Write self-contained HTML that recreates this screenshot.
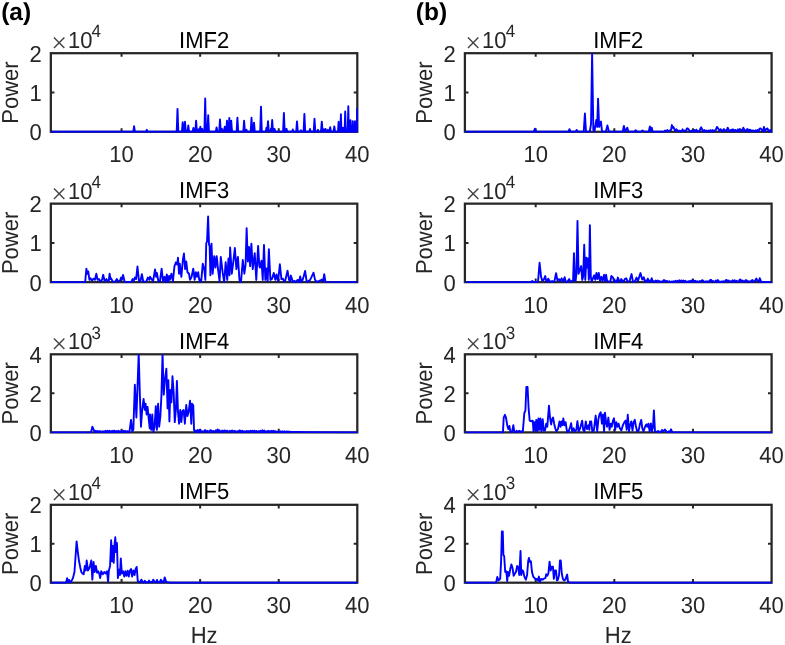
<!DOCTYPE html>
<html lang="en"><head><meta charset="utf-8"><title>IMF power spectra</title>
<style>html,body{margin:0;padding:0;background:#fff}body{width:785px;height:645px;overflow:hidden}svg{display:block}text{font-family:"Liberation Sans",Arial,Helvetica,sans-serif;text-rendering:geometricPrecision}.t{font-size:22px;fill:#262626}.ti{font-size:22px;fill:#000}.lab{font-size:24.5px;font-weight:bold;fill:#000}.ax{fill:none;stroke:#262626;stroke-width:2.25}.tk{stroke:#262626;stroke-width:2;fill:none}.ln{fill:none;stroke:#0000ff;stroke-width:1.9;stroke-linejoin:round;stroke-linecap:butt}</style></head><body>
<svg width="785" height="645" viewBox="0 0 785 645">
<rect width="785" height="645" fill="#fff"/>
<defs>
<clipPath id="c00"><rect x="50.1" y="53.2" width="307.95" height="79.6"/></clipPath>
<clipPath id="c01"><rect x="50.1" y="203.65" width="307.95" height="79.5"/></clipPath>
<clipPath id="c02"><rect x="50.1" y="354.3" width="307.95" height="79.1"/></clipPath>
<clipPath id="c03"><rect x="50.1" y="504.8" width="307.95" height="78.9"/></clipPath>
<clipPath id="c10"><rect x="464.15" y="53.2" width="308.2" height="79.6"/></clipPath>
<clipPath id="c11"><rect x="464.15" y="203.65" width="308.2" height="79.5"/></clipPath>
<clipPath id="c12"><rect x="464.15" y="354.3" width="308.2" height="79.1"/></clipPath>
<clipPath id="c13"><rect x="464.15" y="504.8" width="308.2" height="78.9"/></clipPath>
</defs>
<text class="lab" transform="translate(1.2 20.1) scale(1 1)">(a)</text>
<text class="lab" transform="translate(415.8 20.1) scale(1 1)">(b)</text>
<g>
<rect class="ax" x="50.85" y="53.2" width="306.45" height="78.6"/>
<path class="tk" d="M121.57 131.8v-3.6M121.57 53.2v3.6M200.15 131.8v-3.6M200.15 53.2v3.6M278.72 131.8v-3.6M278.72 53.2v3.6M50.85 92.5h3.6M357.3 92.5h-3.6"/>
<polyline class="ln" clip-path="url(#c00)" points="50.85,131.8 133.1,131.8 133.35,131.46 134.1,126.3 134.85,131.46 135.1,131.8 145.85,131.8 146.1,131.55 146.8,129.8 147.6,131.8 176.6,131.8 176.85,127.51 177.5,108.9 178.1,126.07 178.35,131.8 181.85,131.8 182.1,129.42 182.7,122.3 183.35,130.02 183.6,131.8 184.1,131.8 184.35,129.93 185,121.8 185.6,129.3 185.85,131.8 187.35,131.8 187.6,131.01 188.3,125.5 189.1,131.8 192.6,131.8 193.4,128 194.1,131.32 194.35,131.8 195.1,131.8 195.35,131.1 196.1,120.6 196.85,131.1 197.1,131.8 197.6,131.8 197.85,131.33 198.5,129.3 199.1,131.17 199.35,131.8 199.6,131.18 200.3,126.8 201.1,131.8 201.35,131.8 201.6,131.05 202.2,128.8 202.85,131.24 203.1,131.8 204.35,131.8 204.6,123.47 205.2,98.5 205.85,125.56 206.1,131.8 207.35,131.8 207.6,127.67 208.2,115.3 208.85,128.71 209.1,131.8 215.6,131.8 215.85,131.53 216.6,127.5 217.35,131.53 217.6,131.8 219.1,131.8 219.35,129.48 220,119.4 220.6,128.7 220.85,131.8 221.1,131.8 221.35,131.24 222,128.8 222.6,131.05 222.85,131.8 223.85,131.8 224.1,130.55 224.7,126.8 225.35,130.86 225.6,131.8 226.1,131.8 226.35,129.7 227,120.6 227.6,129 227.85,131.8 228.35,131.8 228.6,130.08 229.3,118 230.1,131.8 230.35,131.8 230.6,129 231.2,120.6 231.85,129.7 232.1,131.8 236.6,131.8 237.4,117.6 238.1,130.02 238.35,131.8 243.1,131.8 243.35,131.11 244.1,120.8 244.85,131.11 245.1,131.8 245.6,131.8 245.85,131.43 246.5,129.8 247.1,131.3 247.35,131.8 250.6,131.8 250.85,129.18 251.5,117.8 252.1,128.3 252.35,131.8 253.1,131.8 253.35,130.08 254,122.6 254.6,129.5 254.85,131.8 260.1,131.8 260.35,127.07 261,106.6 261.6,125.5 261.85,131.8 265.6,131.8 265.85,131.05 266.5,127.8 267.1,130.8 267.35,129.79 268,121.1 268.6,129.13 268.85,131.8 270.1,131.8 270.35,131.24 271,128.8 271.35,130.11 271.6,128.85 272.2,120 272.85,129.59 273.1,131.8 273.6,131.8 273.85,131.24 274.5,128.8 275.1,131.05 275.35,131.8 283.1,131.8 283.9,113 284.6,129.45 284.85,131.8 285.6,131.8 285.85,131.24 286.5,128.8 287.1,131.05 287.35,131.8 291.85,131.8 292.1,131.51 292.8,129.5 293.6,131.8 296.1,131.8 296.35,129.85 297,121.4 297.6,129.2 297.85,131.8 300.1,131.8 300.35,131.52 301,130.3 301.6,131.43 301.85,131.8 303.6,131.8 304.4,113.9 305.1,129.56 305.35,131.8 309.1,131.8 309.35,131.27 310,129 310.6,131.1 310.85,131.8 313.6,131.8 313.85,129.36 314.5,118.8 315.1,128.55 315.35,131.8 317.1,131.8 317.35,131.42 318,129.8 318.6,131.3 318.85,131.8 320.85,131.8 321.1,130.52 321.8,121.6 322.6,131.8 323.1,131.8 323.35,131.33 324,129.3 324.6,131.18 324.85,131.62 325.6,129 326.35,131.62 326.6,131.8 327.1,131.8 327.35,131.42 328,129.8 328.6,131.3 328.85,131.8 329.35,131.8 329.6,130.65 330.2,127.2 330.85,130.94 331.1,131.8 333.35,131.8 333.6,131.12 334.3,126.4 335.1,131.8 337.85,131.8 338.1,130.13 338.6,121.8 339.1,130.13 339.35,131.8 340.1,131.8 340.35,130.33 340.9,114.2 341.35,127.4 341.6,131.8 342.35,131.8 342.6,131 343,127.8 343.35,130.6 343.6,131.8 344.6,131.8 345.2,111.5 345.6,125.03 345.85,131.8 347.6,131.8 347.85,125.42 348.3,106.3 348.85,129.68 349.1,131.8 350.1,131.8 350.5,120.3 350.85,130.36 351.1,131.8 352.35,131.8 352.6,126.45 352.8,121.1 353.1,129.13 353.35,131.8 354.6,131.8 355,121.1 355.35,130.46 355.6,131.8 356.6,131.8 356.85,129.4 357.3,107.8"/>
<text class="t" text-anchor="end" transform="translate(41.7 140.3) scale(1 1.05)">0</text>
<text class="t" text-anchor="end" transform="translate(41.7 101) scale(1 1.05)">1</text>
<text class="t" text-anchor="end" transform="translate(41.7 61.7) scale(1 1.05)">2</text>
<text class="t" text-anchor="middle" transform="translate(121.57 162.2) scale(1 1.05)">10</text>
<text class="t" text-anchor="middle" transform="translate(200.15 162.2) scale(1 1.05)">20</text>
<text class="t" text-anchor="middle" transform="translate(278.72 162.2) scale(1 1.05)">30</text>
<text class="t" text-anchor="middle" transform="translate(357.3 162.2) scale(1 1.05)">40</text>
<text class="t" style="font-family:'Liberation Serif',serif;font-size:28px;fill:#444" transform="translate(51.2 52.1) scale(1 1)">×</text>
<text class="t" transform="translate(68 48.2) scale(1 1.05)">10</text>
<text class="t" style="font-size:17px" transform="translate(91.6 37.4) scale(1 1.05)">4</text>
<text class="ti" text-anchor="middle" transform="translate(204.08 47.8) scale(1 1.05)">IMF2</text>
<text class="t" text-anchor="middle" transform="translate(18.2 92.5) rotate(-90) scale(1 1.05)">Power</text>
</g>
<g>
<rect class="ax" x="50.85" y="203.65" width="306.45" height="78.5"/>
<path class="tk" d="M121.57 282.15v-3.6M121.57 203.65v3.6M200.15 282.15v-3.6M200.15 203.65v3.6M278.72 282.15v-3.6M278.72 203.65v3.6M50.85 242.9h3.6M357.3 242.9h-3.6"/>
<polyline class="ln" clip-path="url(#c01)" points="50.85,282.15 85.17,282.15 86.39,268.69 87.31,273.74 88.23,271.45 89.45,279.86 90.52,278.33 92.05,280.62 93.58,278.63 94.95,279.86 96.33,273.74 97.55,279.86 98.93,279.09 100.46,281.69 101.99,279.86 103.21,274.81 104.59,281.08 106.27,279.09 107.8,281.39 108.72,281.05 109.63,273.74 110.4,279.09 111.16,278.33 112.69,281.69 115.44,281.39 116.82,279.09 118.35,281.69 120.03,280.62 121.1,277.56 122.02,279.09 123.09,274.96 124.62,281.69 130.28,281.84 131.42,281.75 132.57,279.09 133.79,281.08 134.86,277.56 136.09,279.09 137.46,266.55 138.99,281.39 140.52,280.62 141.9,274.2 143.27,281.69 146.33,281.39 147.86,277.56 149.39,279.86 150,276.8 151.53,279.09 153.06,281.39 155.05,269.46 156.12,276.8 156.88,272.98 158.41,281.39 159.94,281.39 161.62,268.69 163,281.39 164.53,276.8 165.67,282.06 166.82,274.5 167.97,282 169.11,276.03 169.88,279.86 171.41,273.74 172.94,281.39 174.46,266.09 175.99,262.27 177.22,264.57 177.98,257.69 179.05,273.74 179.82,263.8 181.35,276.8 182.87,259.98 183.94,253.56 185.17,269.15 186.24,261.51 187.46,272.21 188.99,273.74 190.06,279.86 191.59,276.8 193.27,268.69 194.65,279.86 195.87,272.21 196.94,276.8 198.17,272.21 199.24,279.86 200.23,281.83 201.22,281.39 202.75,263.8 204.28,269.15 205.35,279.86 206.27,243.16 207.03,241.63 208.1,216.4 209.02,244.69 209.63,246.22 210.4,275.27 211.47,243.62 212.69,273.74 214.22,256.16 215.44,267.62 216.67,256.16 218.04,269.15 219.57,281.39 220.8,256.92 222.63,272.21 224.16,282.15 225.69,262.27 227.22,279.86 228.44,258.45 229.51,275.27 230.12,247.44 231.8,273.74 233.33,261.51 234.86,248.05 236.39,269.15 237.92,256.92 239.45,279.86 240.98,282.15 242.81,259.98 244.34,273.74 245.57,264.57 246.64,228.17 247.86,261.51 249.08,246.98 250.15,266.09 251.38,243.62 252.75,269.15 254.74,253.1 256.27,279.86 258.1,245.91 259.33,266.09 260,267.62 261.53,260.74 262.75,279.86 263.98,244.99 265.35,279.86 266.42,268.39 267.65,281.39 268.87,249.28 270.4,279.86 271.93,279.09 273.76,272.98 275.29,279.86 276.51,274.5 278.04,281.39 279.88,264.26 281.41,279.09 282.94,278.63 284.08,281.69 285.23,280.62 287.52,270.68 289.05,279.86 289.97,281.41 290.89,275.58 292.42,280.62 293.33,282.05 294.25,280.99 295.17,281.39 296.19,281.96 297.21,280.13 298.23,279.86 299.22,281.99 300.21,276.49 301.13,281.8 302.05,281.39 303.58,276.8 305.11,270.99 306.64,281.39 307.66,282.05 308.67,280.63 309.69,280.62 311.22,277.56 313.52,272.67 315.05,279.86 316.19,281.77 317.34,281.39 318.36,281.91 319.38,280.73 320.4,280.62 321.93,279.55 323.15,281.39 324.22,274.2 325.44,281.84 357.3,282.15"/>
<text class="t" text-anchor="end" transform="translate(41.7 290.65) scale(1 1.05)">0</text>
<text class="t" text-anchor="end" transform="translate(41.7 251.4) scale(1 1.05)">1</text>
<text class="t" text-anchor="end" transform="translate(41.7 212.15) scale(1 1.05)">2</text>
<text class="t" text-anchor="middle" transform="translate(121.57 312.55) scale(1 1.05)">10</text>
<text class="t" text-anchor="middle" transform="translate(200.15 312.55) scale(1 1.05)">20</text>
<text class="t" text-anchor="middle" transform="translate(278.72 312.55) scale(1 1.05)">30</text>
<text class="t" text-anchor="middle" transform="translate(357.3 312.55) scale(1 1.05)">40</text>
<text class="t" style="font-family:'Liberation Serif',serif;font-size:28px;fill:#444" transform="translate(51.2 202.55) scale(1 1)">×</text>
<text class="t" transform="translate(68 198.65) scale(1 1.05)">10</text>
<text class="t" style="font-size:17px" transform="translate(91.6 187.85) scale(1 1.05)">4</text>
<text class="ti" text-anchor="middle" transform="translate(204.08 198.25) scale(1 1.05)">IMF3</text>
<text class="t" text-anchor="middle" transform="translate(18.2 242.9) rotate(-90) scale(1 1.05)">Power</text>
</g>
<g>
<rect class="ax" x="50.85" y="354.3" width="306.45" height="78.1"/>
<path class="tk" d="M121.57 432.4v-3.6M121.57 354.3v3.6M200.15 432.4v-3.6M200.15 354.3v3.6M278.72 432.4v-3.6M278.72 354.3v3.6M50.85 393.35h3.6M357.3 393.35h-3.6"/>
<polyline class="ln" clip-path="url(#c02)" points="50.85,432.4 90.98,432.4 92.35,426.74 93.88,430.11 94.88,432.29 95.87,430.87 96.79,432.2 97.71,430.99 98.62,432.21 99.54,431.06 100.46,431.33 101.35,432.38 102.24,431.38 103.13,432.16 104.03,431.22 104.92,432.33 105.81,430.81 106.7,432.25 107.59,430.83 108.49,432.25 109.38,430.87 110.27,432.35 111.16,431.02 112.05,432.18 112.95,430.68 113.84,432.22 114.73,430.75 115.62,432.17 116.51,431.13 117.41,432.14 118.3,430.84 119.19,432.3 120.08,431.14 120.97,432.1 121.87,431.02 122.82,432.24 123.78,430.86 124.73,432.12 125.69,430.95 126.64,432.13 127.6,431.19 128.56,432.18 129.51,431.33 131.04,419.86 132.26,431.33 133.33,429.8 134.86,384.69 136.39,417.57 137.46,388.52 138.69,353.35 139.91,396.16 140.98,426.74 142.05,411.45 143.58,398.91 144.8,409.92 145.57,403.81 146.64,414.51 147.55,406.86 148.62,417.57 149.69,428.27 150,414.51 151.22,429.8 152.29,414.51 153.36,432.09 154.59,426.74 155.81,406.1 156.88,429.8 158.1,403.81 159.17,426.74 160.4,416.04 161.47,394.63 162.54,353.35 163.76,394.63 164.83,380.87 166.36,368.64 167.58,408.39 168.35,380.11 169.42,421.39 170.34,390.05 171.41,402.28 172.48,376.28 173.7,393.1 174.77,422.16 175.99,408.39 176.91,380.87 177.98,411.45 179.05,423.68 180.28,409.92 181.35,422.16 182.42,411.45 183.64,409.92 184.86,423.68 186.24,405.03 187.46,416.04 188.69,411.45 190.06,400.75 191.28,423.68 192.05,403.81 193.27,405.34 194.04,429.8 194.95,432.15 195.87,430.57 196.79,431.95 197.71,429.87 198.62,432.35 199.54,430.3 200.46,430.11 201.61,432.31 202.75,431.33 203.9,431.99 205.05,430.11 206.07,432.19 207.08,430.7 208.1,431.33 209.02,432.29 209.94,430.32 210.86,430.11 211.98,432.22 213.1,430.86 214.22,431.33 215.1,432.18 215.98,430.15 216.86,431.85 217.74,429.49 218.6,432.01 219.47,430.26 220.34,431.33 221.25,432.13 222.17,430.54 223.09,432.13 224.01,430.66 224.92,430.41 225.94,432.04 226.96,430.63 227.98,431.33 228.9,432.12 229.82,430.85 230.73,432.13 231.65,430.74 232.57,430.57 233.59,432.07 234.61,430.9 235.63,431.33 236.54,432.32 237.46,431.18 238.38,432.09 239.3,430.38 240.21,430.72 241.13,432.37 242.05,430.65 242.97,432.27 243.88,431.25 244.8,431.33 245.67,432.31 246.55,430.9 247.42,432.11 248.3,431.1 249.17,432.17 250.04,430.94 250.92,430.72 251.79,432.11 252.66,430.84 253.54,432.09 254.41,430.68 255.29,432.24 256.16,430.9 257.03,431.33 257.93,432.3 258.82,431.07 259.71,432.16 260.6,430.77 261.49,432.3 262.39,430.26 263.34,432.21 264.3,430.56 265.25,432.35 266.21,431.33 267.16,432.39 268.12,430.87 269.07,432.3 270.03,431.02 269.94,431.33 270.89,432.12 271.85,430.76 272.81,432.27 273.76,430.87 274.78,432.25 275.8,431.27 276.82,431.64 277.78,432.27 278.73,431.44 279.69,432.28 280.64,431.35 281.6,432.18 282.55,431.3 283.51,432.29 284.46,431.33 285.34,432.22 286.21,431.47 287.09,432.33 287.96,431.36 288.83,432.3 289.71,431.64 290.58,431.79 305.87,432.09 357.3,432.4"/>
<text class="t" text-anchor="end" transform="translate(41.7 440.9) scale(1 1.05)">0</text>
<text class="t" text-anchor="end" transform="translate(41.7 401.85) scale(1 1.05)">2</text>
<text class="t" text-anchor="end" transform="translate(41.7 362.8) scale(1 1.05)">4</text>
<text class="t" text-anchor="middle" transform="translate(121.57 462.8) scale(1 1.05)">10</text>
<text class="t" text-anchor="middle" transform="translate(200.15 462.8) scale(1 1.05)">20</text>
<text class="t" text-anchor="middle" transform="translate(278.72 462.8) scale(1 1.05)">30</text>
<text class="t" text-anchor="middle" transform="translate(357.3 462.8) scale(1 1.05)">40</text>
<text class="t" style="font-family:'Liberation Serif',serif;font-size:28px;fill:#444" transform="translate(51.2 353.2) scale(1 1)">×</text>
<text class="t" transform="translate(68 349.3) scale(1 1.05)">10</text>
<text class="t" style="font-size:17px" transform="translate(91.6 338.5) scale(1 1.05)">3</text>
<text class="ti" text-anchor="middle" transform="translate(204.08 348.9) scale(1 1.05)">IMF4</text>
<text class="t" text-anchor="middle" transform="translate(18.2 393.35) rotate(-90) scale(1 1.05)">Power</text>
</g>
<g>
<rect class="ax" x="50.85" y="504.8" width="306.45" height="77.9"/>
<path class="tk" d="M121.57 582.7v-3.6M121.57 504.8v3.6M200.15 582.7v-3.6M200.15 504.8v3.6M278.72 582.7v-3.6M278.72 504.8v3.6M50.85 543.75h3.6M357.3 543.75h-3.6"/>
<polyline class="ln" clip-path="url(#c03)" points="50.85,582.7 66.06,582.7 67.13,578.11 68.12,582.48 69.11,579.95 70.26,582.64 71.41,581.17 72.94,578.11 74.46,572 75.54,556.71 76.61,541.42 77.83,552.12 79.05,561.29 80.28,567.41 81.35,572 82.42,573.53 83.64,574.29 84.86,565.88 85.78,570.47 86.7,560.53 87.92,570.47 88.99,568.94 90.06,565.88 91.28,560.53 92.35,579.64 93.58,562.06 94.65,572 95.87,565.88 97.09,572.76 98.17,571.23 99.24,573.53 100.15,578.11 101.22,571.23 102.75,574.29 104.28,572 105.81,573.53 107.03,571.23 108.1,581.94 108.87,570.47 110.09,565.88 111.16,540.19 112.08,561.29 112.84,546 113.76,562.82 114.53,544.47 115.29,537.29 116.06,552.12 116.97,542.94 117.89,578.11 119.11,569.7 120.03,575.05 120.8,558.54 121.87,573.53 123.09,571.23 124.31,576.58 125.38,571.23 126.45,575.82 127.68,570.77 128.75,576.58 129.97,570.47 131.04,568.94 132.11,576.58 133.33,570.47 134.56,575.05 135.63,568.94 136.7,566.95 137.77,581.17 139.45,581.94 140.37,582.51 141.28,579.64 142.81,581.94 143.81,582.65 144.8,580.87 145.95,582.68 147.09,581.94 148.09,582.55 149.08,580.56 150,582.37 150.92,581.94 152.06,582.32 153.21,579.64 154.74,581.94 155.89,582.36 157.03,579.95 157.95,582.6 158.87,581.94 159.86,582.44 160.86,579.64 161.77,582.54 162.69,581.17 163.69,582.55 164.68,577.35 166.21,581.94 170.03,582.7 357.3,582.7"/>
<text class="t" text-anchor="end" transform="translate(41.7 591.2) scale(1 1.05)">0</text>
<text class="t" text-anchor="end" transform="translate(41.7 552.25) scale(1 1.05)">1</text>
<text class="t" text-anchor="end" transform="translate(41.7 513.3) scale(1 1.05)">2</text>
<text class="t" text-anchor="middle" transform="translate(121.57 613.1) scale(1 1.05)">10</text>
<text class="t" text-anchor="middle" transform="translate(200.15 613.1) scale(1 1.05)">20</text>
<text class="t" text-anchor="middle" transform="translate(278.72 613.1) scale(1 1.05)">30</text>
<text class="t" text-anchor="middle" transform="translate(357.3 613.1) scale(1 1.05)">40</text>
<text class="t" style="font-family:'Liberation Serif',serif;font-size:28px;fill:#444" transform="translate(51.2 503.7) scale(1 1)">×</text>
<text class="t" transform="translate(68 499.8) scale(1 1.05)">10</text>
<text class="t" style="font-size:17px" transform="translate(91.6 489) scale(1 1.05)">4</text>
<text class="ti" text-anchor="middle" transform="translate(204.08 499.4) scale(1 1.05)">IMF5</text>
<text class="t" text-anchor="middle" transform="translate(18.2 543.75) rotate(-90) scale(1 1.05)">Power</text>
<text class="t" text-anchor="middle" transform="translate(204.08 642.5) scale(1 1.05)">Hz</text>
</g>
<g>
<rect class="ax" x="464.9" y="53.2" width="306.7" height="78.6"/>
<path class="tk" d="M535.68 131.8v-3.6M535.68 53.2v3.6M614.32 131.8v-3.6M614.32 53.2v3.6M692.96 131.8v-3.6M692.96 53.2v3.6M464.9 92.5h3.6M771.6 92.5h-3.6"/>
<polyline class="ln" clip-path="url(#c10)" points="465.24,131.8 533.75,131.8 534.82,128.74 536.04,131.8 560,131.8 568.41,131.8 569.48,129.2 570.7,131.8 575.29,131.8 576.82,129.97 578.04,131.8 583.7,131.8 584.92,113.45 585.99,131.8 589.82,131.49 591.04,123.85 592.11,53.51 593.33,129.97 594.4,131.8 596.24,120.03 597.16,126.91 598.07,98.62 599.14,126.91 600.06,123.85 600.98,121.56 602.05,131.8 605.87,131.8 607.4,125.38 608.93,131.8 622.69,131.8 623.91,125.84 625.14,131.8 626.06,129.97 627.28,127.67 628.5,131.8 634.16,131.8 635.69,130.27 637.22,131.8 641.04,131.8 642.57,130.58 644.1,131.49 648.69,131.8 649.91,126.45 650.83,131.06 651.74,127.67 652.66,131.8 663.98,131.8 665,130.58 666.15,131.52 667.29,129.97 668.44,131.5 669.59,130.58 671.12,129.97 671.88,125.07 672.49,127.82 673.41,126.91 674.33,129.05 675.3,131.22 676.26,129.24 677.23,129.97 678.25,131.45 679.27,130.68 680.29,130.88 681.44,131.6 682.58,129.35 683.73,131.35 684.88,130.42 685.9,131.47 686.92,128.4 687.94,128.44 689.46,130.58 690.48,131.77 691.5,130.69 692.52,130.88 693.48,131.72 694.43,130.09 695.39,131.54 696.35,129.66 697.49,131.79 698.64,130.88 699.51,131.69 700.37,128.5 701.24,127.37 702.46,130.12 703.42,131.44 704.37,130.05 705.33,131.75 706.28,130.58 707.2,131.54 708.12,130.51 709.04,131.58 709.95,130.4 710.87,130.27 711.79,131.8 712.71,130.04 713.62,131.73 714.54,130.53 715.46,130.58 716.99,126.91 718.52,129.05 719.54,131.2 720.56,129.13 721.57,129.97 722.72,131.63 723.87,129.05 725.4,130.58 726.54,131.16 727.69,127.67 729.22,130.58 730.18,131.59 731.13,129.65 732.09,131.69 733.04,129.35 734.06,131.32 735.08,129.88 736.1,130.58 737.06,131.41 738.01,129.3 738.97,131.62 739.92,129.05 741.45,130.12 742.37,131.54 743.29,127.67 744.82,130.58 745.73,131.73 746.65,129.65 747.57,129.05 748.59,131.76 749.61,129.62 750.63,129.97 751.65,131.55 752.67,130.51 753.69,130.58 754.64,131.57 755.6,130.22 756.55,131.67 757.51,129.97 758.53,131.32 759.55,128.68 760.57,128.44 762.09,130.12 763.01,131.54 763.93,126.91 764.92,131.36 765.92,129.35 767.45,128.44 768.59,131.37 769.74,130.27 770.66,131.77 771.57,129.35"/>
<text class="t" text-anchor="end" transform="translate(455.75 140.3) scale(1 1.05)">0</text>
<text class="t" text-anchor="end" transform="translate(455.75 101) scale(1 1.05)">1</text>
<text class="t" text-anchor="end" transform="translate(455.75 61.7) scale(1 1.05)">2</text>
<text class="t" text-anchor="middle" transform="translate(535.68 162.2) scale(1 1.05)">10</text>
<text class="t" text-anchor="middle" transform="translate(614.32 162.2) scale(1 1.05)">20</text>
<text class="t" text-anchor="middle" transform="translate(692.96 162.2) scale(1 1.05)">30</text>
<text class="t" text-anchor="middle" transform="translate(771.6 162.2) scale(1 1.05)">40</text>
<text class="t" style="font-family:'Liberation Serif',serif;font-size:28px;fill:#444" transform="translate(465.25 52.1) scale(1 1)">×</text>
<text class="t" transform="translate(482.05 48.2) scale(1 1.05)">10</text>
<text class="t" style="font-size:17px" transform="translate(505.65 37.4) scale(1 1.05)">4</text>
<text class="ti" text-anchor="middle" transform="translate(618.25 47.8) scale(1 1.05)">IMF2</text>
<text class="t" text-anchor="middle" transform="translate(432.25 92.5) rotate(-90) scale(1 1.05)">Power</text>
</g>
<g>
<rect class="ax" x="464.9" y="203.65" width="306.7" height="78.5"/>
<path class="tk" d="M535.68 282.15v-3.6M535.68 203.65v3.6M614.32 282.15v-3.6M614.32 203.65v3.6M692.96 282.15v-3.6M692.96 203.65v3.6M464.9 242.9h3.6M771.6 242.9h-3.6"/>
<polyline class="ln" clip-path="url(#c11)" points="465.57,282.15 520,282.15 530.7,282.15 532.23,280.93 533.76,282.15 538.04,281.69 539.57,262.73 541.1,276.8 542.17,280.62 543.7,279.86 545.23,276.03 546.3,281.39 547.29,281.73 548.29,278.63 549.82,281.39 550.96,281.96 552.11,281.08 553.26,282.04 554.4,281.39 556.09,273.28 557.46,280.62 558.99,279.09 560.21,281.39 561.59,278.33 563.12,281.39 564.65,277.26 565.87,282.15 566.79,282.11 567.71,281.08 569.24,279.09 570.46,281.39 571.33,282.15 572.19,280.67 573.06,280.62 573.98,253.1 574.89,280.62 575.66,280.62 576.42,273.74 577.49,220.99 578.56,273.74 579.94,269.92 581.16,266.09 582.23,279.86 583.15,276.8 584.22,244.69 585.29,279.86 586.36,257.69 587.28,267.62 588.04,258.45 588.81,279.86 589.11,276.8 589.88,225.12 590.8,276.8 591.71,281.66 592.63,279.09 594.16,275.27 595.23,279.86 596.45,272.98 597.52,279.09 598.75,272.98 599.97,280.62 601.35,276.8 602.57,281.39 604.1,274.81 605.09,280.76 606.09,274.81 607.16,281.39 609.45,281.39 610.37,281.83 611.28,276.03 612.97,277.56 614.04,281.39 615.03,281.93 616.02,280.62 616.94,281.94 617.86,277.56 619.39,281.39 620.31,281.77 621.22,279.09 622.75,281.39 623.75,281.8 624.74,279.09 626.27,278.33 627.49,281.39 629.79,281.39 630,279.58 631.58,274.06 632.96,281.56 633.95,282.07 634.94,281.16 636.52,277.61 637.9,281.16 640.46,273.07 642.24,279.58 643.82,277.21 644.81,281.71 645.79,280.57 646.78,281.71 647.77,278.6 648.76,282.03 649.74,280.57 650.73,281.77 651.72,278.2 652.7,281.65 653.69,281.16 654.68,282.07 655.67,280.58 656.65,281.9 657.64,280.57 658.63,281.87 659.62,281.03 660.6,282.13 661.59,281.56 662.58,281.94 663.56,280.3 664.55,280.18 665.54,281.97 666.53,280.92 667.51,281.16 668.5,282.11 669.49,281.24 670.47,282.1 671.46,281.56 672.45,281.98 673.44,281.18 674.42,282.1 675.41,280.85 676.4,282.04 677.38,280.77 678.37,281.82 679.36,280.32 680.35,281.96 681.33,280.4 682.32,281.88 683.31,280.57 684.29,281.88 685.28,280.75 686.27,282.14 687.26,281.56 688.24,282.08 689.23,281.02 690.22,282.06 691.2,280.58 692.19,282.11 693.18,280.37 694.17,281.81 695.15,280.7 696.14,282.12 697.13,281.18 698.11,281.56 698.98,282.08 699.85,281.03 700.72,281.98 701.59,280.53 702.46,280.18 704.04,281.56 705.02,282.11 706.01,281.17 707,281.99 707.99,281.16 709.1,282.15 710.22,280 711.34,279.98 712.2,282.14 713.05,280.99 713.91,281.56 714.9,281.93 715.88,280.56 716.87,282.01 717.86,279.98 718.85,282.02 719.83,281.56 720.82,282.08 721.81,281.4 722.79,281.93 723.78,281.16 724.77,282.13 725.76,280.25 726.74,279.98 727.73,281.8 728.72,280.48 729.7,281.84 730.69,281.16 731.68,282.07 732.67,280.24 733.65,281.76 734.64,280.18 735.63,281.9 736.61,280.83 737.6,281.56 738.59,282.01 739.58,279.8 740.56,279.58 741.55,281.74 742.54,280.47 743.52,281.16 744.51,282 745.5,280.2 746.49,280.18 747.47,282 748.46,281.17 749.45,281.56 750.43,281.94 751.42,280.49 752.41,279.98 753.59,281.96 754.78,281.16 756.36,278.6 757.94,281.56 758.83,281.7 759.71,278.2 761.29,281.95 771.6,282.15"/>
<text class="t" text-anchor="end" transform="translate(455.75 290.65) scale(1 1.05)">0</text>
<text class="t" text-anchor="end" transform="translate(455.75 251.4) scale(1 1.05)">1</text>
<text class="t" text-anchor="end" transform="translate(455.75 212.15) scale(1 1.05)">2</text>
<text class="t" text-anchor="middle" transform="translate(535.68 312.55) scale(1 1.05)">10</text>
<text class="t" text-anchor="middle" transform="translate(614.32 312.55) scale(1 1.05)">20</text>
<text class="t" text-anchor="middle" transform="translate(692.96 312.55) scale(1 1.05)">30</text>
<text class="t" text-anchor="middle" transform="translate(771.6 312.55) scale(1 1.05)">40</text>
<text class="t" style="font-family:'Liberation Serif',serif;font-size:28px;fill:#444" transform="translate(465.25 202.55) scale(1 1)">×</text>
<text class="t" transform="translate(482.05 198.65) scale(1 1.05)">10</text>
<text class="t" style="font-size:17px" transform="translate(505.65 187.85) scale(1 1.05)">4</text>
<text class="ti" text-anchor="middle" transform="translate(618.25 198.25) scale(1 1.05)">IMF3</text>
<text class="t" text-anchor="middle" transform="translate(432.25 242.9) rotate(-90) scale(1 1.05)">Power</text>
</g>
<g>
<rect class="ax" x="464.9" y="354.3" width="306.7" height="78.1"/>
<path class="tk" d="M535.68 432.4v-3.6M535.68 354.3v3.6M614.32 432.4v-3.6M614.32 354.3v3.6M692.96 432.4v-3.6M692.96 354.3v3.6M464.9 393.35h3.6M771.6 393.35h-3.6"/>
<polyline class="ln" clip-path="url(#c12)" points="465.32,432.4 480,432.4 502.94,432.4 503.7,417.57 504.92,414.82 505.99,417.57 507.22,425.21 508.29,429.04 509.36,425.98 510.28,431.33 511.19,432.31 512.11,431.33 513.33,425.21 514.25,431.33 515.47,432.35 516.7,430.87 517.72,432.16 518.74,431.07 519.76,431.02 520.77,432.23 521.79,431.17 522.81,431.33 524.34,412.98 525.41,410.69 526.33,386.99 527.55,386.99 528.62,408.39 529.69,420.63 531.22,421.39 532.75,420.63 533.52,431.33 534.43,422.16 535.35,429.8 536.27,419.86 537.34,431.33 538.41,418.33 539.33,429.8 540.4,418.33 541.47,431.33 542.69,419.1 543.76,430.57 544.98,430.57 546.21,423.68 547.28,426.74 548.04,417.57 548.96,405.64 550.03,417.57 551.1,424.45 552.17,419.1 553.09,417.57 554.16,423.68 555.23,428.27 556.45,431.33 557.98,429.04 559.51,421.39 560.58,426.74 561.5,421.39 562.57,425.21 563.33,418.33 564.4,425.21 565.63,422.16 566.7,429.8 567.69,432.37 568.69,431.33 570.21,426.74 571.13,423.23 572.2,431.33 573.58,428.27 574.8,431.33 576.33,429.8 577.4,421.09 578.62,431.33 580.15,428.27 582.14,420.63 583.21,429.8 584.43,431.33 585.81,421.39 587.03,429.04 588.56,425.21 589.33,429.8 590,421.39 591.22,421.39 592.29,431.33 593.82,430.57 595.66,415.58 597.19,431.33 598.41,419.1 599.48,414.51 600.7,412.22 601.93,423.68 603,414.51 604.07,431.33 604.98,412.68 606.06,422.16 607.13,426.74 608.35,417.57 609.57,429.8 610.64,423.68 611.71,426.74 612.94,420.63 614.01,418.33 615.23,429.8 616.3,422.16 617.52,426.74 618.59,423.68 619.82,428.27 621.35,430.57 622.87,425.21 624.4,422.16 625.63,420.63 626.7,429.8 627.77,414.82 628.99,431.33 630.06,425.21 631.28,421.39 632.51,430.57 633.58,422.16 634.8,419.86 635.87,425.98 637.09,431.33 638.62,430.57 640,423.68 641.22,419.86 642.29,428.27 643.52,431.33 645.05,426.74 646.27,424.45 647.34,426.74 648.41,423.68 649.63,431.33 650.86,423.38 651.93,431.33 653,426.74 653.91,410.38 654.98,431.33 656.51,432.09 658.04,430.87 659.57,432.09 660.72,432.24 661.87,430.11 663.39,431.33 664.92,429.49 666.45,431.64 667.6,432.39 668.75,431.33 669.89,432.18 671.04,429.34 672.26,432.09 710.03,432.4 771.6,432.4"/>
<text class="t" text-anchor="end" transform="translate(455.75 440.9) scale(1 1.05)">0</text>
<text class="t" text-anchor="end" transform="translate(455.75 401.85) scale(1 1.05)">2</text>
<text class="t" text-anchor="end" transform="translate(455.75 362.8) scale(1 1.05)">4</text>
<text class="t" text-anchor="middle" transform="translate(535.68 462.8) scale(1 1.05)">10</text>
<text class="t" text-anchor="middle" transform="translate(614.32 462.8) scale(1 1.05)">20</text>
<text class="t" text-anchor="middle" transform="translate(692.96 462.8) scale(1 1.05)">30</text>
<text class="t" text-anchor="middle" transform="translate(771.6 462.8) scale(1 1.05)">40</text>
<text class="t" style="font-family:'Liberation Serif',serif;font-size:28px;fill:#444" transform="translate(465.25 353.2) scale(1 1)">×</text>
<text class="t" transform="translate(482.05 349.3) scale(1 1.05)">10</text>
<text class="t" style="font-size:17px" transform="translate(505.65 338.5) scale(1 1.05)">3</text>
<text class="ti" text-anchor="middle" transform="translate(618.25 348.9) scale(1 1.05)">IMF4</text>
<text class="t" text-anchor="middle" transform="translate(432.25 393.35) rotate(-90) scale(1 1.05)">Power</text>
</g>
<g>
<rect class="ax" x="464.9" y="504.8" width="306.7" height="77.9"/>
<path class="tk" d="M535.68 582.7v-3.6M535.68 504.8v3.6M614.32 582.7v-3.6M614.32 504.8v3.6M692.96 582.7v-3.6M692.96 504.8v3.6M464.9 543.75h3.6M771.6 543.75h-3.6"/>
<polyline class="ln" clip-path="url(#c13)" points="465.32,582.7 480,582.7 496.06,582.7 497.28,577.04 498.65,580.41 500.18,578.88 501.1,561.29 501.87,531.48 502.78,531.48 503.39,555.18 504.16,555.94 505.23,572 506.3,571.23 507.22,581.17 507.98,572 509.05,575.82 510.28,568.94 511.35,564.35 512.57,568.17 513.64,575.82 514.86,573.53 515.93,572 517.16,565.88 518.23,567.41 519.3,575.05 520.52,551.05 521.28,575.05 522.2,570.16 523.27,571.23 524.34,576.58 525.87,579.64 527.09,575.05 528.17,561.29 528.93,557.93 530,562.06 530.92,561.29 531.99,572 533.21,576.58 534.59,578.11 535.81,579.64 537.03,578.88 538.1,580.71 538.87,576.58 539.94,581.94 541.16,578.88 542.69,579.64 544.22,578.42 545.44,578.11 546.21,574.29 547.28,575.82 548.35,573.53 549.57,561.6 550.64,570.47 551.87,566.64 552.94,566.64 553.85,578.88 554.92,570.47 555.99,570.47 556.91,580.41 557.98,579.64 559.05,575.05 559.97,560.53 560.73,560.53 561.8,573.53 562.87,578.88 564.1,580.41 565.32,579.64 566.39,576.58 567.16,574.6 568.07,581.94 570.21,582.7 600.03,582.7 771.6,582.7"/>
<text class="t" text-anchor="end" transform="translate(455.75 591.2) scale(1 1.05)">0</text>
<text class="t" text-anchor="end" transform="translate(455.75 552.25) scale(1 1.05)">2</text>
<text class="t" text-anchor="end" transform="translate(455.75 513.3) scale(1 1.05)">4</text>
<text class="t" text-anchor="middle" transform="translate(535.68 613.1) scale(1 1.05)">10</text>
<text class="t" text-anchor="middle" transform="translate(614.32 613.1) scale(1 1.05)">20</text>
<text class="t" text-anchor="middle" transform="translate(692.96 613.1) scale(1 1.05)">30</text>
<text class="t" text-anchor="middle" transform="translate(771.6 613.1) scale(1 1.05)">40</text>
<text class="t" style="font-family:'Liberation Serif',serif;font-size:28px;fill:#444" transform="translate(465.25 503.7) scale(1 1)">×</text>
<text class="t" transform="translate(482.05 499.8) scale(1 1.05)">10</text>
<text class="t" style="font-size:17px" transform="translate(505.65 489) scale(1 1.05)">3</text>
<text class="ti" text-anchor="middle" transform="translate(618.25 499.4) scale(1 1.05)">IMF5</text>
<text class="t" text-anchor="middle" transform="translate(432.25 543.75) rotate(-90) scale(1 1.05)">Power</text>
<text class="t" text-anchor="middle" transform="translate(618.25 642.5) scale(1 1.05)">Hz</text>
</g>
</svg></body></html>
